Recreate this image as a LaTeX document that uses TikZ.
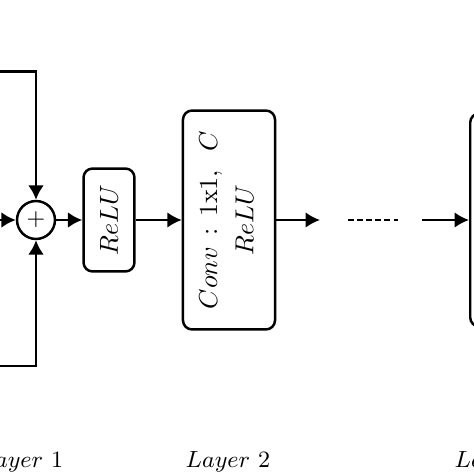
\documentclass[tikz,border=0pt]{standalone}
\usetikzlibrary{arrows.meta,positioning}
\begin{document}
\begin{tikzpicture}[
  x=0.3846pt, y=0.3846pt,
  >={Latex[length=5.5pt,width=6pt]},
  line width=0.95pt,
  block/.style   = {draw, rounded corners=3.5pt, inner sep=0pt, align=center},
  sumnode/.style = {draw, circle, inner sep=0pt, minimum size=14.6pt, font=\small},
  layer/.style   = {font=\small, anchor=base}
]

% ---- constants ----
\def\ay{254}     % main axis
\def\ytop{402.5} % skip line above
\def\ybot{108}   % skip line below

\useasboundingbox (0,0) rectangle (474,474);
\clip (0,0) rectangle (474,474);

% ---- nodes ----
\node[sumnode] (sum) at (36,\ay) {$+$};

\node[block, minimum width=19.6pt, minimum height=39.6pt] (relu) at (109,\ay)
  {\rotatebox{90}{$ReLU$}};

\node[block, minimum width=35.4pt, minimum height=84.2pt] (conv) at (229,\ay)
  {\rotatebox{90}{\begin{tabular}{@{}c@{}}$Conv\,:\,1\mathrm{x}1,\;\;C$\\[2pt] $ReLU$\end{tabular}}};

\node[block, minimum width=35.4pt, minimum height=82pt, anchor=west] (next) at (469,\ay) {};

% ---- free ends ----
\coordinate (in)  at (-10,\ay);
\coordinate (top) at (-10,\ytop);
\coordinate (bot) at (-10,\ybot);
\coordinate (a1)  at (320,\ay);
\coordinate (d1)  at (348,\ay);
\coordinate (d2)  at (398,\ay);
\coordinate (a2)  at (422,\ay);

% ---- arrows ----
\draw[->] (in) -- (sum);
\draw[->] (top) -| (sum);
\draw[->] (bot) -| (sum);
\draw[->] (sum) -- (relu);
\draw[->] (relu) -- (conv);
\draw[->] (conv) -- (a1);
\draw[dash pattern=on 2.2pt off 1.3pt] (d1) -- (d2);
\draw[->] (a2) -- (next);

% ---- layer labels ----
\node[layer] (l1) at (21,7)  {$Layer\ 1$};
\node[layer] (l2) at (228,7) {$Layer\ 2$};
\node[layer] (l3) at (497,7) {$Layer\ 3$};

\end{tikzpicture}
\end{document}
